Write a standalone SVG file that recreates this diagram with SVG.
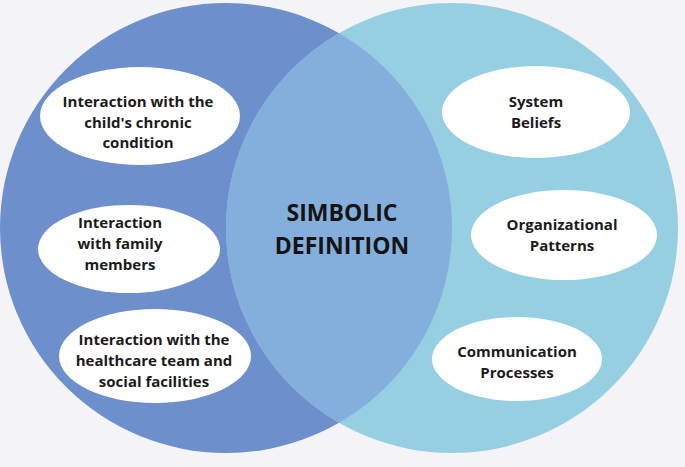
<svg xmlns="http://www.w3.org/2000/svg" width="685" height="467" viewBox="0 0 685 467">
<style>
.node{fill:#ffffff}
.t{font-family:"Open Sans","Liberation Sans",sans-serif;font-weight:bold;font-size:15px;fill:#1b1b1b;text-anchor:middle}
.title{font-family:"Open Sans","Liberation Sans",sans-serif;font-weight:bold;font-size:23px;fill:#141414;text-anchor:middle}
</style>
<defs>
<clipPath id="leftClip"><ellipse cx="226" cy="228" rx="226" ry="225"/></clipPath>
</defs>
<rect width="685" height="467" fill="#f4f4f8"/>
<g id="left-set"><ellipse cx="226" cy="228" rx="226" ry="225" fill="#6d8fcb"/></g>
<g id="right-set"><ellipse cx="452" cy="228" rx="226" ry="225" fill="#96cfe1"/></g>
<g id="overlap"><ellipse cx="452" cy="228" rx="226" ry="225" fill="#84afdc" clip-path="url(#leftClip)"/>
<text class="title" x="342" y="221">SIMBOLIC</text>
<text class="title" x="342" y="254">DEFINITION</text>
</g>
<g id="connectors"></g>
<g id="n1"><ellipse class="node" cx="140" cy="116" rx="100" ry="49"/>
<text class="t" x="138" y="107">Interaction with the</text>
<text class="t" x="138" y="127.5">child's chronic</text>
<text class="t" x="138" y="148">condition</text></g>
<g id="n2"><ellipse class="node" cx="129" cy="249" rx="91" ry="44"/>
<text class="t" x="120" y="228">Interaction</text>
<text class="t" x="120" y="249">with family</text>
<text class="t" x="120" y="269.5">members</text></g>
<g id="n3"><ellipse class="node" cx="155" cy="356" rx="96" ry="47"/>
<text class="t" x="154" y="345">Interaction with the</text>
<text class="t" x="154" y="366">healthcare team and</text>
<text class="t" x="154" y="387">social facilities</text></g>
<g id="n4"><ellipse class="node" cx="536" cy="112" rx="94" ry="46"/>
<text class="t" x="536" y="107">System</text>
<text class="t" x="536" y="128">Beliefs</text></g>
<g id="n5"><ellipse class="node" cx="564" cy="235" rx="93" ry="45"/>
<text class="t" x="562" y="230">Organizational</text>
<text class="t" x="562" y="251">Patterns</text></g>
<g id="n6"><ellipse class="node" cx="517" cy="359" rx="85" ry="42"/>
<text class="t" x="517" y="357">Communication</text>
<text class="t" x="517" y="378">Processes</text></g>
</svg>
